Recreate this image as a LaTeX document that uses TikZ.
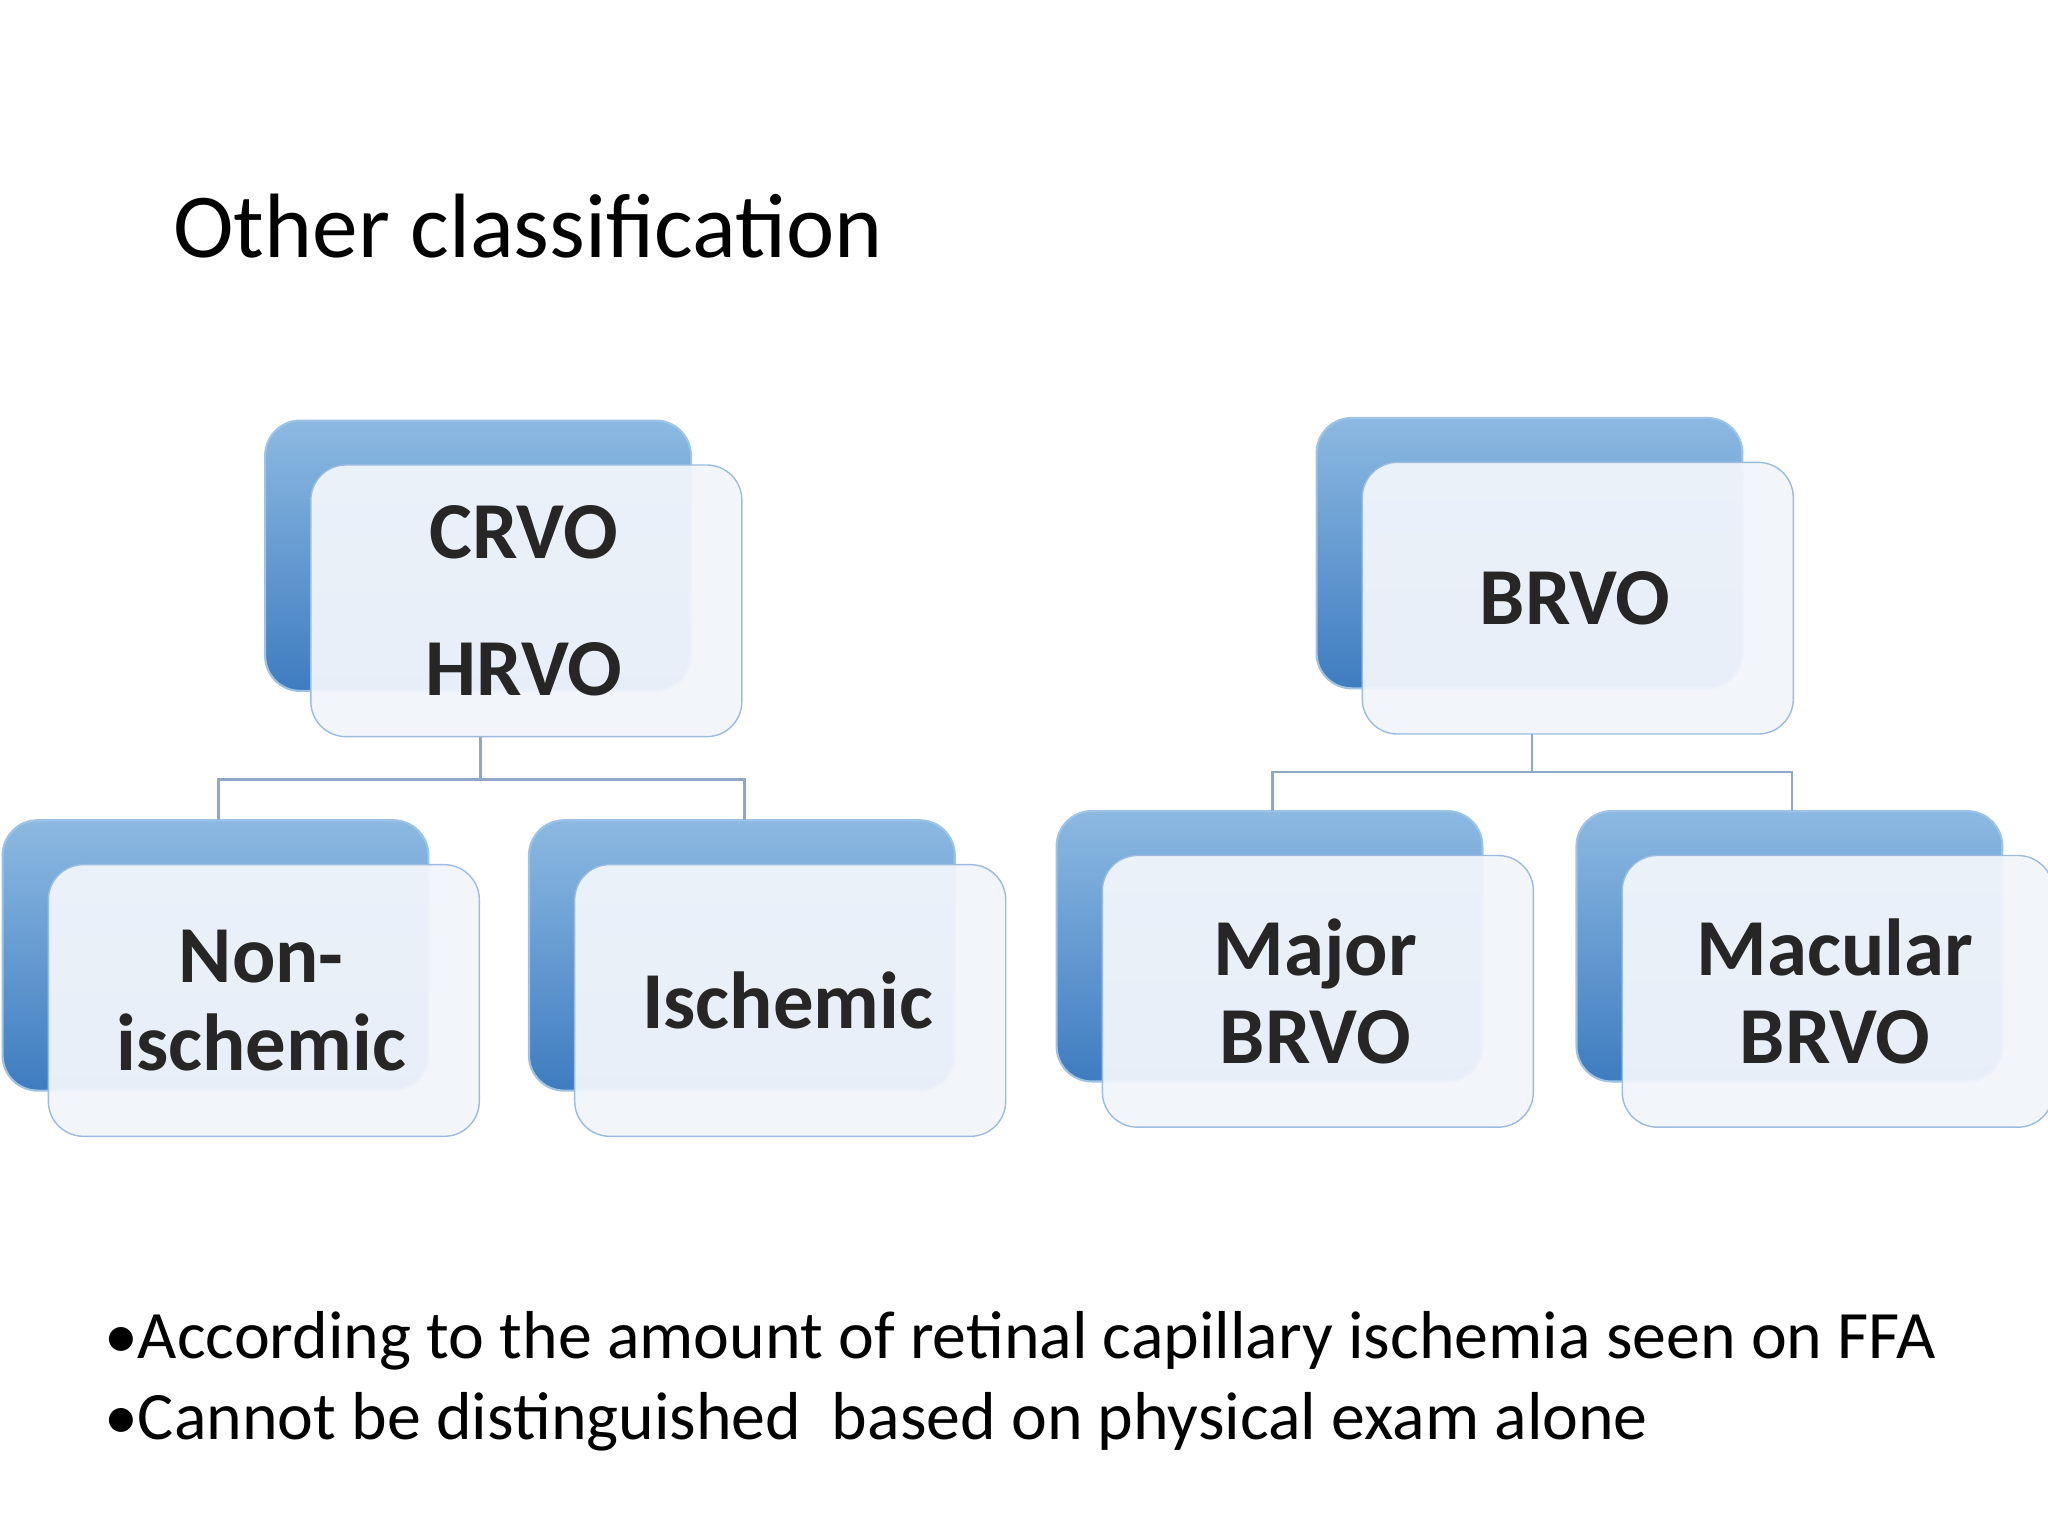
\documentclass[tikz,border=0pt]{standalone}
\usepackage{fontspec}
\setmainfont{Carlito}
\usetikzlibrary{positioning,calc}

\definecolor{backblue}{HTML}{5B9BD5}
\definecolor{backdark}{HTML}{3E7CC0}
\definecolor{frontfill}{HTML}{F1F5FB}
\definecolor{frontline}{HTML}{9DBBE0}
\definecolor{linkgray}{HTML}{8EA9C8}

\begin{document}
\begin{tikzpicture}[x=0.01306cm,y=-0.01306cm,semithick]
  \tikzstyle{back}=[rounded corners=10pt,top color=backblue!70,bottom color=backdark,draw=backblue!60]
  \tikzstyle{front}=[rounded corners=10pt,fill=frontfill,fill opacity=.95,draw=frontline,thin]
  \tikzstyle{lbl}=[font=\bfseries\fontsize{23}{25}\selectfont,align=center,text=black!85]
  \tikzstyle{note}=[anchor=base west,font=\fontsize{19.3}{23}\selectfont]
  \tikzstyle{link}=[draw=linkgray,thick]
  \useasboundingbox (0,0) rectangle (1568,1176);

  % title
  \node[anchor=base west,font=\fontsize{26}{30}\selectfont] (title) at (123,197) {Other classification};

  % boxes: back, front, label
  \newcommand{\classbox}[4]{%
    \draw[back] (#1,#2) rectangle ++(326,207);
    \draw[front] (#1+35,#2+34) rectangle ++(330,208);
    \node[lbl] (#3) at (#1+198,#2+138) {#4};
    \coordinate (#3top) at (#1+165,#2);
    \coordinate (#3bot) at (#1+165,#2+242);}
  \classbox{203}{322}{crvo}{CRVO\\[14pt]HRVO}
  \classbox{2}{628}{non}{Non-\\ischemic}
  \classbox{405}{628}{isch}{Ischemic}
  \classbox{1008}{320}{brvo}{BRVO}
  \classbox{809}{621}{major}{Major\\BRVO}
  \classbox{1207}{621}{macular}{Macular\\BRVO}

  % connectors
  \coordinate (j1) at (368,597);
  \coordinate (j2) at (1173,591);
  \draw[link] (crvobot) -- (j1);
  \draw[link] (nontop) |- (j1) -| (ischtop);
  \draw[link] (brvobot) -- (j2);
  \draw[link] (majortop) |- (j2) -| (maculartop);

  % notes
  \node[note] (note1) at (70,1040) {•According to the amount of retinal capillary ischemia seen on FFA};
  \node[note] (note2) at (70,1102) {•Cannot be distinguished\ \ based on physical exam alone};
\end{tikzpicture}
\end{document}
